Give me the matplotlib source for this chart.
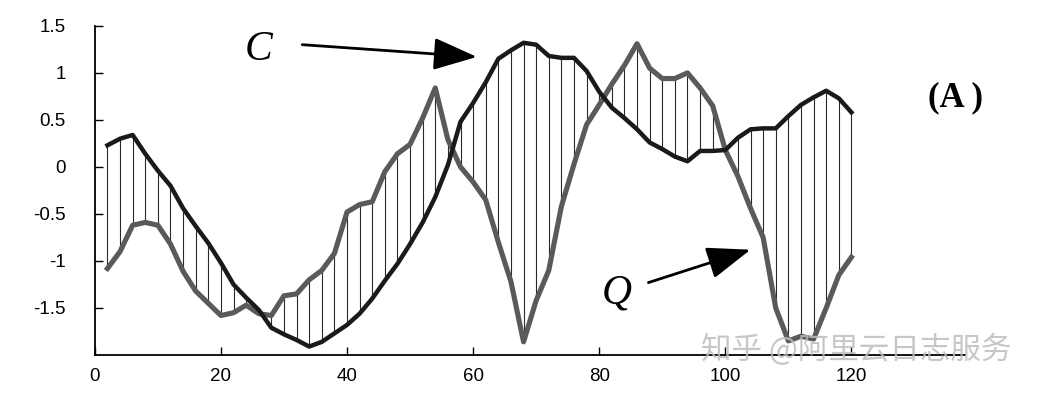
import matplotlib
matplotlib.use('Agg')
import matplotlib.pyplot as plt
import numpy as np

# sample positions and the two curves
x = list(range(2, 121, 2))

c_vals = [0.23, 0.30, 0.34, 0.14, -0.04, -0.20, -0.44, -0.63, -0.81, -1.02,
          -1.25, -1.39, -1.52, -1.71, -1.78, -1.84, -1.91, -1.86, -1.77, -1.68,
          -1.56, -1.40, -1.21, -1.03, -0.82, -0.59, -0.32, 0.02, 0.48, 0.68,
          0.90, 1.15, 1.24, 1.32, 1.30, 1.18, 1.16, 1.16, 1.02, 0.80,
          0.63, 0.52, 0.40, 0.26, 0.19, 0.11, 0.06, 0.17, 0.17, 0.18,
          0.31, 0.40, 0.41, 0.41, 0.54, 0.66, 0.74, 0.81, 0.73, 0.58]

q_vals = [-1.08, -0.90, -0.62, -0.59, -0.62, -0.82, -1.11, -1.32, -1.45, -1.58,
          -1.55, -1.47, -1.56, -1.58, -1.37, -1.35, -1.20, -1.10, -0.92, -0.48,
          -0.40, -0.37, -0.05, 0.14, 0.24, 0.52, 0.84, 0.29, 0.00, -0.16,
          -0.35, -0.80, -1.22, -1.86, -1.42, -1.10, -0.42, 0.03, 0.45, 0.66,
          0.88, 1.08, 1.31, 1.05, 0.94, 0.94, 1.00, 0.84, 0.65, 0.18,
          -0.10, -0.44, -0.75, -1.50, -1.85, -1.80, -1.83, -1.50, -1.15, -0.96]

x_ticks = [0, 20, 40, 60, 80, 100, 120]
y_ticks = [-1.5, -1, -0.5, 0, 0.5, 1, 1.5]
y_tick_labels = ['-1.5', '-1', '-0.5', '0', '0.5', '1', '1.5']

fig = plt.figure(figsize=(10.42, 3.98), dpi=100)
ax = fig.add_axes([0.091, 0.108, 0.835, 0.827])

# vertical hatch between the curves
ax.vlines(x, c_vals, q_vals, colors='#2a2a2a', linewidth=0.8, zorder=1)

ax.plot(x, q_vals, color='#5a5a5a', linewidth=3.7, solid_joinstyle='round', zorder=2)
ax.plot(x, c_vals, color='#1a1a1a', linewidth=3.2, solid_joinstyle='round', zorder=3)

ax.set_xlim(0, 138)
ax.set_ylim(-2, 1.5)
ax.set_xticks(x_ticks)
ax.set_yticks(y_ticks)
ax.set_yticklabels(y_tick_labels)

for s in ['top', 'right']:
    ax.spines[s].set_visible(False)
for s in ['left', 'bottom']:
    ax.spines[s].set_linewidth(1.3)

ax.tick_params(axis='both', direction='in', length=6, width=1, labelsize=13.5)
ax.tick_params(axis='y', pad=21)
ax.tick_params(axis='x', pad=9)
for lab in ax.get_xticklabels() + ax.get_yticklabels():
    lab.set_family('Liberation Sans')

arrow = dict(arrowstyle='-|>,head_length=1.35,head_width=0.5', color='black',
             lw=2, mutation_scale=20, shrinkA=0, shrinkB=0)

ax.text(25.9, 1.245, 'C', fontsize=30, style='italic', family='Liberation Serif',
        ha='center', va='center')
ax.annotate('', xy=(60.6, 1.17), xytext=(32.9, 1.30), arrowprops=arrow)

ax.text(82.7, -1.34, 'Q', fontsize=30, style='italic', family='Liberation Serif',
        ha='center', va='center')
ax.annotate('', xy=(104, -0.88), xytext=(87.8, -1.23), arrowprops=arrow)

fig.text(0.917, 0.754, '(A )', fontsize=25, fontweight='bold', family='Liberation Serif',
         ha='center', va='center')

# watermark
fig.text(0.822, 0.122, '知乎 @阿里云日志服务', fontsize=22, color='#bdbdbd', alpha=0.85,
         family=['Noto Sans CJK SC', 'DejaVu Sans'], ha='center', va='center')

fig.savefig('out.png', dpi=100)
